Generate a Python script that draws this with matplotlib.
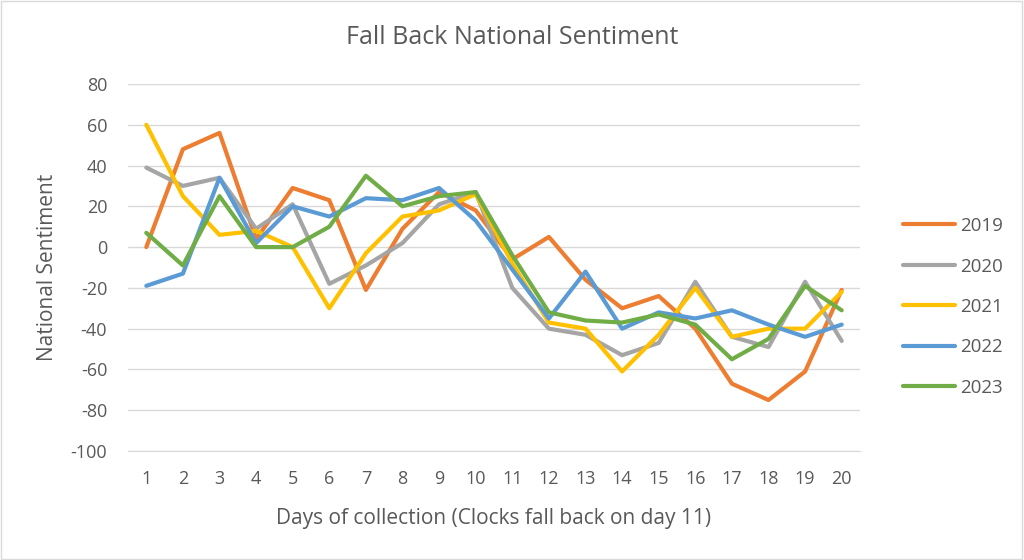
import matplotlib
matplotlib.use("Agg")
import matplotlib.pyplot as plt
from matplotlib.patches import Rectangle

days = list(range(1, 21))
s2019 = [0, 48, 56, 4, 29, 23, -21, 9, 27, 18, -6, 5, -16, -30, -24, -40, -67, -75, -61, -21]
s2020 = [39, 30, 34, 9, 21, -18, -9, 2, 21, 27, -20, -40, -43, -53, -47, -17, -44, -49, -17, -46]
s2021 = [60, 25, 6, 8, 0, -30, -3, 15, 18, 26, -8, -37, -40, -61, -43, -20, -44, -40, -40, -22]
s2022 = [-19, -13, 34, 2, 20, 15, 24, 23, 29, 13, -11, -35, -12, -40, -32, -35, -31, -38, -44, -38]
s2023 = [7, -9, 25, 0, 0, 10, 35, 20, 25, 27, -4, -32, -36, -37, -33, -38, -55, -45, -19, -31]
series = [("2019", s2019, "#ED7D31"), ("2020", s2020, "#A5A5A5"), ("2021", s2021, "#FFC000"),
          ("2022", s2022, "#5B9BD5"), ("2023", s2023, "#70AD47")]

plt.rcParams['font.family'] = ['Open Sans', 'DejaVu Sans']
plt.rcParams['axes.unicode_minus'] = False
fig = plt.figure(figsize=(10.24, 5.6), dpi=100)
ax = fig.add_axes([128/1024, 1-451/560, (860-128)/1024, (451-84)/560])

for name, vals, col in series:
    ax.plot(days, vals, color=col, lw=3.0, label=name, solid_joinstyle='round',
            solid_capstyle='round')

ax.set_xlim(0.5, 20.5)
ax.set_ylim(-100, 80)
ax.set_yticks(range(-100, 81, 20))
ax.set_xticks(days)
ax.grid(axis='y', color='#D9D9D9', lw=1)
ax.set_axisbelow(True)
for sp in ['top', 'right', 'left']:
    ax.spines[sp].set_visible(False)
ax.spines['bottom'].set_color('#D9D9D9')
ax.tick_params(axis='both', length=0, labelsize=13, colors='#595959')
ax.tick_params(axis='y', pad=15)
ax.tick_params(axis='x', pad=14)
ax.set_xlabel("Days of collection (Clocks fall back on day 11)", fontsize=15, color='#595959', labelpad=14)
ax.set_ylabel("National Sentiment", fontsize=15, color='#595959', labelpad=9)
fig.text(512/1024, 1-38/560, "Fall Back National Sentiment", ha='center', va='center', fontsize=18, color='#595959')

leg = fig.legend(loc='center left', bbox_to_anchor=(886/1024, 1-307/560), frameon=False,
                 fontsize=13.5, labelcolor='#595959', handlelength=2.8, handletextpad=0.25,
                 labelspacing=1.2)

fig.patches.append(Rectangle((0.001, 0.001), 0.997, 0.997, transform=fig.transFigure,
                             fill=False, edgecolor='#D9D9D9', lw=1))
fig.savefig("out.png", dpi=100)
